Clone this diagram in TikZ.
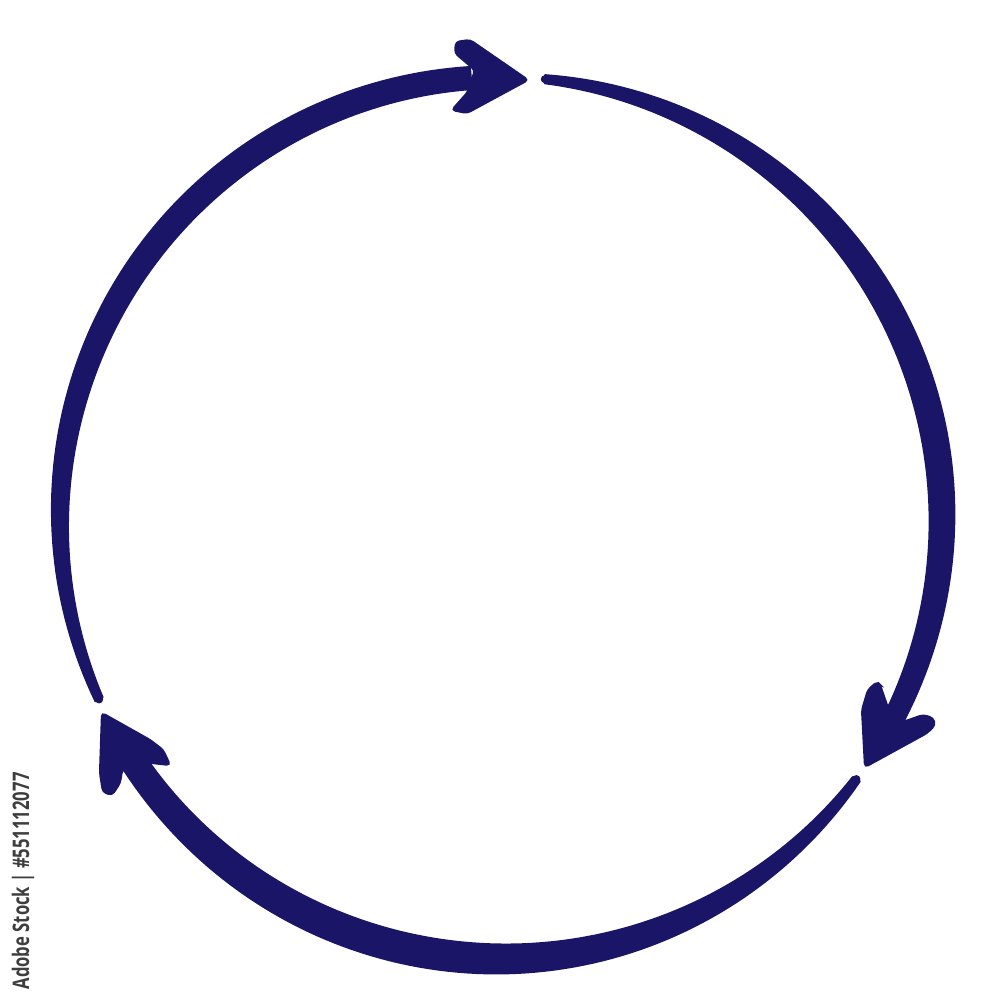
\documentclass[tikz,border=0pt]{standalone}
\usepackage{fontspec}
\newfontfamily\wmfont{Open Sans}
\definecolor{navy}{RGB}{27,21,104}
\definecolor{wmgray}{RGB}{62,62,62}
\newcommand\drawband[5]{%
  \path[band] plot[domain=0:1,samples=90,variable=\t]
    ({501+(441+(#3+#4*sin(180*\t)+#5*\t))*cos(#1+(#2-#1)*\t)},{482+(441+(#3+#4*sin(180*\t)+#5*\t))*sin(#1+(#2-#1)*\t)})
    -- plot[domain=1:0,samples=90,variable=\t]
    ({501+(441-(#3+#4*sin(180*\t)+#5*\t))*cos(#1+(#2-#1)*\t)},{482+(441-(#3+#4*sin(180*\t)+#5*\t))*sin(#1+(#2-#1)*\t)})
    -- cycle;
  \fill[navy] ({501+441*cos(#1)},{482+441*sin(#1)}) circle (#3);
}
\begin{document}
\begin{tikzpicture}[x=0.01cm,y=0.01cm,
  band/.style={fill=navy,draw=navy,line width=0.6pt,line join=round},
  head/.style={fill=navy,draw=navy,line width=0.6pt,rounded corners=1pt}]
\useasboundingbox (0,0) rectangle (1000,1000);
% arc 1: bottom-left up over the top
\drawband{204.3}{93.9}{4}{3.8}{7}
\path[head] (528,920) -- (470,960) -- (456,958) -- (455,947) -- (475,930)
  -- (468,908) -- (452,890) -- (467,887) -- cycle;
% arc 2: top down the right side
\drawband{84.3}{-26.6}{4}{5.5}{6}
\path[head] (865,233) -- (862,290) -- (868,310) -- (877,318) -- (880,315)
  -- (888,292) -- (903,278) -- (923,285) -- (933,282) -- (935,275) -- (927,267) -- cycle;
% arc 3: bottom-right round the bottom
\drawband{-36.3}{-146.1}{4}{6.25}{8.5}
\path[head] (102,287) -- (150,260) -- (163,250) -- (170,235) -- (143,238)
  -- (122,230) -- (120,217) -- (112,205) -- (103,208) -- (100,227) -- cycle;
% vertical label
\node[rotate=90,text=wmgray,font=\wmfont\bfseries\fontsize{6.5}{7.5}\selectfont,inner sep=0pt] (wm) at (23,119)
  {\resizebox{61.7pt}{\height}{Adobe Stock | \#551112077}};
\end{tikzpicture}
\end{document}
